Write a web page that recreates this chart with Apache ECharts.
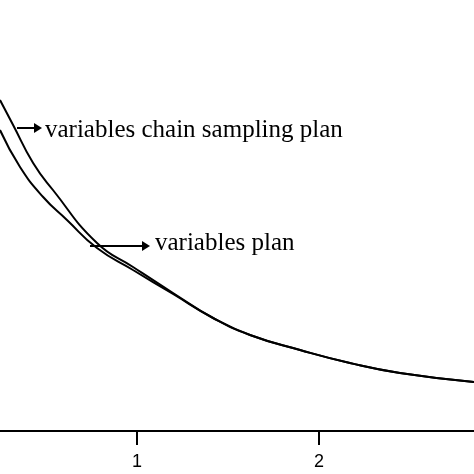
<!DOCTYPE html><html><head><meta charset="utf-8"><script src="https://cdn.jsdelivr.net/npm/echarts@6/dist/echarts.min.js"></script></head><body style="margin:0"><div id="c" style="width:474px;height:474px"></div><script>
const xTicks=[1,2];
const chainX=[0.247,0.319,0.429,0.538,0.780,0.978,1.198,1.418,1.621,1.896,2.170,2.445,2.852];
const chainY=[331,306,268,241,188,164,138,113,96,81,68,58,49];
const planX=[0.247,0.357,0.484,0.615,0.780,0.978,1.198,1.418,1.621,1.896,2.170,2.445,2.852];
const planY=[301,264,234,211,183,161,137,113,96,81,68,58,49];
const labels=["variables chain sampling plan","variables plan"];
const ch=echarts.init(document.getElementById('c'));
const z=(xs,ys)=>xs.map((x,i)=>[x,ys[i]]);
ch.setOption({animation:false,
grid:{left:0,right:0,top:0,bottom:43},
xAxis:{type:'value',min:0.247,max:2.852,interval:1,axisLine:{lineStyle:{color:'#000',width:2}},axisTick:{show:true,length:14,lineStyle:{color:'#000',width:2},customValues:xTicks},splitLine:{show:false},axisLabel:{customValues:xTicks,color:'#000',fontSize:18,fontFamily:'Liberation Sans',margin:22}},
yAxis:{type:'value',min:0,max:431,show:false},
series:[
{type:'line',data:z(chainX,chainY),smooth:0.5,symbol:'none',lineStyle:{color:'#000',width:2}},
{type:'line',data:z(planX,planY),smooth:0.5,symbol:'none',lineStyle:{color:'#000',width:2}}],
graphic:[
{type:'text',left:45,top:118,style:{text:labels[0],font:'25px "Liberation Serif"',fill:'#000'}},
{type:'line',shape:{x1:17,y1:128,x2:36,y2:128},style:{stroke:'#000',lineWidth:2}},
{type:'polygon',shape:{points:[[34,123],[42,128],[34,133]]},style:{fill:'#000'}},
{type:'text',left:155,top:231,style:{text:labels[1],font:'25px "Liberation Serif"',fill:'#000'}},
{type:'line',shape:{x1:90,y1:246,x2:144,y2:246},style:{stroke:'#000',lineWidth:2}},
{type:'polygon',shape:{points:[[142,241],[150,246],[142,251]]},style:{fill:'#000'}}
]});
</script></body></html>
